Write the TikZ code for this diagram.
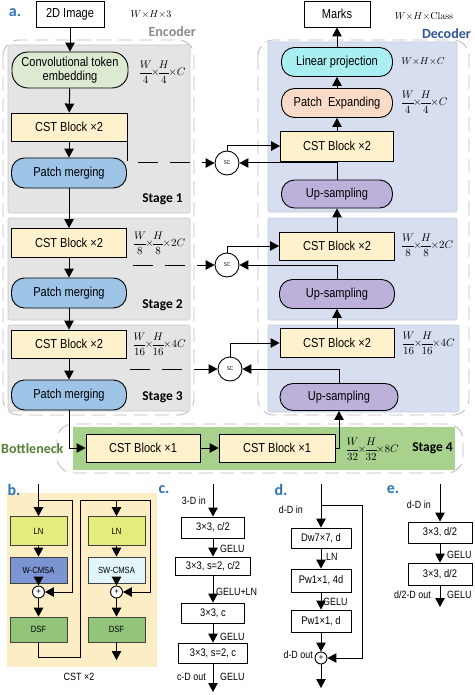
\documentclass[tikz,border=0pt]{standalone}
\usepackage[no-math]{fontspec}
\usepackage{amsmath}
\setmainfont{Liberation Sans}[FakeStretch=0.85]
\newfontfamily\calb{Carlito}
\usetikzlibrary{arrows.meta}
\definecolor{encgray}{HTML}{E4E4E4}
\definecolor{encedge}{HTML}{CACACA}
\definecolor{decblue}{HTML}{D6DEEF}
\definecolor{decedge}{HTML}{C4CCDD}
\definecolor{cstY}{HTML}{FFF1CC}
\definecolor{convG}{HTML}{DCEAD2}
\definecolor{pmB}{HTML}{9DC3E6}
\definecolor{linC}{HTML}{A9EFF2}
\definecolor{pexpO}{HTML}{FADBC8}
\definecolor{upP}{HTML}{BDB1DC}
\definecolor{bnG}{HTML}{A9D18E}
\definecolor{labB}{HTML}{2E75B6}
\definecolor{encT}{HTML}{8C8C8C}
\definecolor{decT}{HTML}{2F5597}
\definecolor{bnT}{HTML}{548235}
\definecolor{bpanel}{HTML}{FDEDC5}
\definecolor{lnY}{HTML}{E4EC7E}
\definecolor{wcB}{HTML}{7B94D2}
\definecolor{swC}{HTML}{E2F5F8}
\definecolor{dsfG}{HTML}{92C47A}
\definecolor{dashG}{HTML}{BDBDBD}
\newcommand{\dimlab}[3]{$\dfrac{W}{#1}\!{\times}\!\dfrac{H}{#2}\!{\times}#3$}
\begin{document}
\begin{tikzpicture}[x=1pt,y=-1pt,
  every node/.style={font=\fontsize{13}{14}\selectfont},
  arr/.style={-{Triangle[length=9pt,width=9.5pt]}, line width=1pt},
  ln/.style={line width=1pt},
  blk/.style={draw, line width=0.9pt, inner sep=0pt, align=center},
  pill/.style={blk, rounded corners=13pt},
  cst/.style={blk, fill=cstY},
  dimtext/.style={font=\fontsize{10.5}{12}\selectfont, inner sep=0pt},
  stagelab/.style={font=\fontsize{13.5}{15}\selectfont\calb\bfseries, inner sep=0pt, anchor=east},
  partlab/.style={font=\fontsize{16}{18}\selectfont\calb\bfseries, text=labB, inner sep=0pt},
  outline/.style={draw=dashG, line width=0.9pt, dash pattern=on 14pt off 7pt, rounded corners=16pt},
  encpanel/.style={fill=encgray, draw=encedge, line width=0.6pt, rounded corners=2pt},
  decpanel/.style={fill=decblue, draw=decedge, line width=0.6pt, rounded corners=2pt},
  skipline/.style={line width=1pt, dash pattern=on 20pt off 12pt, -{Triangle[length=9pt,width=9.5pt]}},
  scnode/.style={draw, circle, line width=0.9pt, fill=white, minimum size=24pt, inner sep=0pt, font=\fontsize{5.5}{6}\selectfont},
  sm/.style={font=\fontsize{10.5}{12}\selectfont, inner sep=1pt},
  sbox/.style={draw, line width=0.9pt, inner sep=0pt, font=\fontsize{11}{12}\selectfont},
  bbox/.style={draw=black!75, line width=0.8pt, inner sep=0pt, minimum width=57pt, font=\fontsize{9}{11}\selectfont},
  plus/.style={draw, circle, line width=0.9pt, fill=white, minimum size=12pt, inner sep=0pt, font=\fontsize{9}{9}\selectfont}
]
\useasboundingbox (0,0) rectangle (474,695);
\clip (0,0) rectangle (474,695);
\fill[white] (0,0) rectangle (474,695);

% ===== outlines and panels =====
\draw[outline] (3,40) rectangle (194,415);
\draw[outline] (258,40) rectangle (469,415);
\draw[outline] (57,424) rectangle (463,473);
\fill[white] (150,30) rectangle (196,38);
\fill[white] (416,30) rectangle (470,38);
\node[font=\fontsize{14}{15}\selectfont\calb\bfseries, text=encT, anchor=east, inner sep=0pt] (enclab) at (196,32) {Encoder};
\node[font=\fontsize{14}{15}\selectfont\calb\bfseries, text=decT, anchor=east, inner sep=0pt] (declab) at (471,34) {Decoder};

\filldraw[encpanel] (8,45) rectangle (190,213);
\filldraw[encpanel] (8,218) rectangle (190,320);
\filldraw[encpanel] (8,325) rectangle (190,411);
\filldraw[decpanel] (268,42) rectangle (457,212);
\filldraw[decpanel] (268,218) rectangle (457,320);
\filldraw[decpanel] (268,325) rectangle (459,412);
\fill[bnG] (73,427) rectangle (455,470);

% ===== part a labels =====
\node[partlab] (pa) at (15,13) {a.};
\node[dimtext, font=\fontsize{10}{12}\selectfont] (d0) at (151,15) {$W{\times}H{\times}3$};
\node[dimtext, font=\fontsize{10}{12}\selectfont] (d0b) at (424,16) {$W{\times}H{\times}\mathrm{Class}$};

% ===== encoder =====
\node[blk, minimum width=68pt, minimum height=26pt, fill=white] (img) at (70,14) {2D Image};
\node[pill, fill=convG, minimum width=116pt, minimum height=36pt, rounded corners=16pt, font=\fontsize{13}{14}\selectfont] (conv) at (70,70) {Convolutional token\\embedding};
\node[cst, minimum width=116pt, minimum height=28pt] (c1e) at (69,127) {CST Block ×2};
\node[pill, fill=pmB, minimum width=115pt, minimum height=30pt] (pm1) at (69,173) {Patch merging};
\node[cst, minimum width=115pt, minimum height=29pt] (c2e) at (69,243) {CST Block ×2};
\node[pill, fill=pmB, minimum width=115pt, minimum height=30pt] (pm2) at (69,293) {Patch merging};
\node[cst, minimum width=115pt, minimum height=28pt] (c3e) at (69,344) {CST Block ×2};
\node[pill, fill=pmB, minimum width=115pt, minimum height=30pt] (pm3) at (69,395) {Patch merging};

\node[dimtext] (l1e) at (162,72) {\dimlab{4}{4}{C}};
\node[dimtext] (l2e) at (159,243) {\dimlab{8}{8}{2C}};
\node[dimtext] (l3e) at (159,344) {\dimlab{16}{16}{4C}};
\node[stagelab] (s1) at (183,199) {Stage 1};
\node[stagelab] (s2) at (183,305) {Stage 2};
\node[stagelab] (s3) at (183,397) {Stage 3};

\draw[arr] (img) -- (conv);
\draw[arr] (conv) -- (c1e);
\draw[arr] (c1e) -- (pm1);
\draw[arr] (pm1) -- (c2e);
\draw[arr] (c2e) -- (pm2);
\draw[arr] (pm2) -- (c3e);
\draw[arr] (c3e) -- (pm3);

% ===== decoder =====
\node[blk, minimum width=66pt, minimum height=26pt, fill=white] (marks) at (337,14) {Marks};
\node[pill, fill=linC, minimum width=111pt, minimum height=29pt] (lin) at (337,62) {Linear projection};
\node[pill, fill=pexpO, minimum width=111pt, minimum height=29pt] (pexp) at (337,103) {Patch\ \ Expanding};
\node[cst, minimum width=113pt, minimum height=30pt] (c1d) at (337,146) {CST Block ×2};
\node[pill, fill=upP, minimum width=111pt, minimum height=28pt] (up1) at (337,194) {Up-sampling};
\node[cst, minimum width=115pt, minimum height=28pt] (c2d) at (337,246) {CST Block ×2};
\node[pill, fill=upP, minimum width=115pt, minimum height=29pt] (up2) at (337,294) {Up-sampling};
\node[cst, minimum width=114pt, minimum height=29pt] (c3d) at (337,343) {CST Block ×2};
\node[pill, fill=upP, minimum width=118pt, minimum height=27pt] (up3) at (339,397) {Up-sampling};

\node[dimtext, font=\fontsize{10}{12}\selectfont] (l0d) at (423,62) {$W{\times}H{\times}C$};
\node[dimtext] (l1d) at (424,102) {\dimlab{4}{4}{C}};
\node[dimtext] (l2d) at (427,245) {\dimlab{8}{8}{2C}};
\node[dimtext] (l3d) at (428,343) {\dimlab{16}{16}{4C}};

\draw[arr] (c1d) -- (pexp);
\draw[arr] (pexp) -- (lin);
\draw[arr] (lin) -- (marks);
\draw[arr] (c2d) -- (up1);
\draw[arr] (c3d) -- (up2);

% ===== skip connections =====
\node[scnode] (sc1) at (227,163) {SC};
\node[scnode] (sc2) at (227,265) {SC};
\node[scnode] (sc3) at (230,369) {SC};
\coordinate (k2) at (133,265);
\coordinate (k3) at (130,369);
\draw[skipline] (c1e.south east) |- (sc1.west);
\draw[skipline] (k2) -- (sc2.west);
\draw[skipline] (k3) -- (sc3.west);
\draw[arr] (sc1.north) |- (c1d.west);
\draw[arr] (sc2.north) |- (c2d.west);
\draw[arr] (sc3.north) |- (c3d.west);
\draw[arr] (up1.north) |- (sc1.east);
\draw[arr] (up2.north) |- (sc2.east);
\draw[arr] (up3.north) |- (sc3.east);

% ===== bottleneck =====
\node[font=\fontsize{14}{15}\selectfont\calb\bfseries, text=bnT, anchor=west, inner sep=0pt] (bnlab) at (1,449) {Bottleneck};
\node[cst, minimum width=114pt, minimum height=28pt] (b1) at (143,448) {CST Block ×1};
\node[cst, minimum width=116pt, minimum height=28pt] (b2) at (277,448) {CST Block ×1};
\node[dimtext] (l4) at (372,449) {\dimlab{32}{32}{8C}};
\node[stagelab] (s4) at (453,448) {Stage 4};
\draw[arr] (pm3.south) |- (b1.west);
\draw[arr] (b1) -- (b2);
\draw[arr] (b2.east) -| (up3.south);

% ===== part b =====
\fill[bpanel] (7,493) rectangle (157,667);
\node[partlab] (pb) at (14,490) {b.};
\node[bbox, fill=lnY, minimum height=29pt] (lnl) at (38.5,531) {LN};
\node[bbox, fill=wcB, minimum height=26pt] (wc) at (38.5,570) {W-CMSA};
\node[plus] (pl) at (38.5,592) {+};
\node[bbox, fill=dsfG, minimum height=25pt] (dsfl) at (38.5,629.5) {DSF};
\node[bbox, fill=lnY, minimum height=29pt] (lnr) at (116.5,531) {LN};
\node[bbox, fill=swC, minimum height=26pt] (swc) at (116.5,570) {SW-CMSA};
\node[plus] (pr) at (116.5,592) {+};
\node[bbox, fill=dsfG, minimum height=25pt] (dsfr) at (116.5,629.5) {DSF};
\coordinate (bt) at (38.5,484);
\coordinate (br1) at (38.5,500);
\coordinate (br2) at (72,500);
\coordinate (bm1) at (80,657);
\coordinate (bm2) at (80,500);
\coordinate (bmid) at (116.5,500);
\coordinate (br3) at (150,500);
\coordinate (bout) at (116.5,660);
\draw[arr] (bt) -- (lnl);
\draw[arr] (br1) -- (br2) |- (pl.east);
\draw[arr] (lnl) -- (wc);
\draw[arr] (wc) -- (pl);
\draw[arr] (pl) -- (dsfl);
\draw[ln] (dsfl.south) |- (bm1) -- (bm2) -- (br3);
\draw[arr] (br3) |- (pr.east);
\draw[arr] (bmid) -- (lnr.north);
\draw[arr] (lnr) -- (swc);
\draw[arr] (swc) -- (pr);
\draw[arr] (pr) -- (dsfr);
\draw[arr] (dsfr) -- (bout);
\node[font=\fontsize{10.5}{12}\selectfont] (cstx2) at (79,677) {CST ×2};

% ===== part c =====
\node[partlab] (pc) at (164,490) {c.};
\coordinate (ct) at (213,484);
\node[sbox, minimum width=63pt, minimum height=21pt] (cb1) at (213,527.5) {3×3, c/2};
\node[sbox, minimum width=75pt, minimum height=18pt] (cb2) at (213,566) {3×3, s=2, c/2};
\node[sbox, minimum width=63pt, minimum height=20pt] (cb3) at (213,613) {3×3, c};
\node[sbox, minimum width=69pt, minimum height=20pt] (cb4) at (213,653) {3×3, s=2, c};
\coordinate (cout) at (213,692);
\node[sm, anchor=east] (cin) at (207,501) {3-D in};
\node[sm, anchor=west] (cg1) at (219,549) {GELU};
\node[sm, anchor=west] (cg2) at (215,592) {GELU+LN};
\node[sm, anchor=west] (cg3) at (219,637) {GELU};
\node[sm, anchor=east] (cdo) at (207,677) {c-D out};
\node[sm, anchor=west] (cg4) at (219,677) {GELU};
\draw[arr] (ct) -- (cb1);
\draw[arr] (cb1) -- (cb2);
\draw[arr] (cb2) -- (cb3);
\draw[arr] (cb3) -- (cb4);
\draw[arr] (cb4) -- (cout);

% ===== part d =====
\node[partlab] (pd) at (281,490) {d.};
\coordinate (dt) at (321,484);
\coordinate (dr1) at (321,505);
\coordinate (dr2) at (362,505);
\node[sbox, minimum width=60pt, minimum height=20pt] (db1) at (321,538) {Dw7×7, d};
\node[sbox, minimum width=60pt, minimum height=23pt] (db2) at (321,580.5) {Pw1×1, 4d};
\node[sbox, minimum width=60pt, minimum height=22pt] (db3) at (321,621) {Pw1×1, d};
\node[plus] (pd2) at (321,658) {+};
\coordinate (dout) at (321,688);
\node[sm, anchor=east] (din) at (304,510) {d-D in};
\node[sm, anchor=west] (dl1) at (325,557) {LN};
\node[sm, anchor=west] (dl2) at (322,602) {GELU};
\node[sm, anchor=east] (ddo) at (314,655) {d-D out};
\draw[arr] (dt) -- (db1);
\draw[arr] (db1) -- (db2);
\draw[arr] (db2) -- (db3);
\draw[arr] (db3) -- (pd2);
\draw[arr] (dr1) -- (dr2) |- (pd2.east);
\draw[arr] (pd2) -- (dout);

% ===== part e =====
\node[partlab] (pe) at (393,490) {e.};
\coordinate (et) at (440,484);
\node[sbox, minimum width=64pt, minimum height=21pt] (eb1) at (440,532.5) {3×3, d/2};
\node[sbox, minimum width=64pt, minimum height=22pt] (eb2) at (440,574) {3×3, d/2};
\coordinate (eout) at (440,607);
\node[sm, anchor=east] (ein) at (432,505) {d-D in};
\node[sm, anchor=west] (eg1) at (446,555) {GELU};
\node[sm, anchor=east] (edo) at (432,595) {d/2-D out};
\node[sm, anchor=west] (eg2) at (446,595) {GELU};
\draw[arr] (et) -- (eb1);
\draw[arr] (eb1) -- (eb2);
\draw[arr] (eb2) -- (eout);
\end{tikzpicture}
\end{document}
